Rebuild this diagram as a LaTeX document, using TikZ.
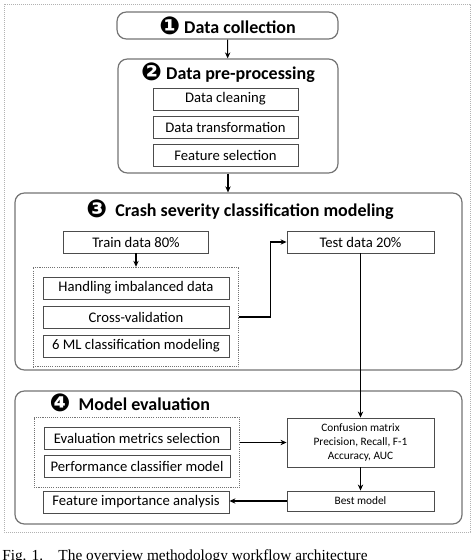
\documentclass[tikz,border=0pt]{standalone}
\usepackage{fontspec}
\setmainfont{Carlito}
\newfontfamily\dingfont{DejaVu Sans}
\newfontfamily\capfont{Liberation Serif}
\usetikzlibrary{arrows.meta,fit}
\newcommand\stepmark[1]{{\dingfont\fontsize{18.5}{18.5}\selectfont\raisebox{-0.6pt}{#1}}}

\begin{document}
\begin{tikzpicture}[x=0.75pt, y=-0.75pt, >={Stealth[length=4.5pt,width=4pt]},
    stage/.style={draw=black!55, line width=0.9pt, rounded corners=7pt},
    headtext/.style={font=\fontsize{13.5}{16}\selectfont\bfseries, inner sep=1pt},
    stepbox/.style={draw=black!70, line width=0.7pt, minimum width=108.75pt,
        minimum height=16.5pt, inner sep=1pt, font=\fontsize{11}{13}\selectfont},
    wide/.style={minimum width=139.5pt},
    resultbox/.style={draw=black!70, line width=0.7pt, minimum width=110.25pt,
        inner sep=1pt, font=\fontsize{8.5}{10.5}\selectfont},
    groupbox/.style={draw=black!55, line width=0.6pt, dash pattern=on 0.8pt off 0.8pt, inner sep=7pt},
    arr/.style={->, line width=0.8pt}]
    \useasboundingbox (0,0) rectangle (474,560);

    % Outer frame
    \draw[black!30, line width=0.5pt, dash pattern=on 0.6pt off 0.9pt] (4,4) rectangle (470,532);

    % Stage 1
    \node[stage, headtext, minimum width=165.75pt, minimum height=20.25pt] (collect) at (227.5,25.5) {\stepmark{❶}\ Data collection};

    % Stage 2
    \node[stage, minimum width=165pt, minimum height=85.5pt] (prep) at (228,116) {};
    \node[headtext] (preptitle) at (228,73) {\stepmark{❷}\ Data pre-processing};
    \node[stepbox] (clean) at (225.5,99) {Data cleaning};
    \node[stepbox] (transf) at (225.5,127) {Data transformation};
    \node[stepbox] (featsel) at (225.5,155) {Feature selection};

    % Stage 3
    \node[stage, minimum width=335.25pt, minimum height=132.75pt] (model) at (238.5,281.5) {};
    \node[headtext] (modeltitle) at (240,210) {\stepmark{❸}\ \ Crash severity classification modeling};
    \node[stepbox] (train) at (136,242) {Train data 80\%};
    \node[stepbox, minimum width=110.25pt] (test) at (360.5,242) {Test data 20\%};
    \node[stepbox, wide] (imbal) at (136,288) {Handling imbalanced data};
    \node[stepbox, wide] (cv) at (136,317.5) {Cross-validation};
    \node[stepbox, wide] (mlmod) at (136,346) {6 ML classification modeling};
    \node[groupbox, fit=(imbal)(mlmod)] (trainset) {};

    % Stage 4
    \node[stage, minimum width=335.25pt, minimum height=99.75pt] (evalst) at (238.5,457.5) {};
    \node[headtext, anchor=west] (evaltitle) at (48,403) {\stepmark{❹}\ \ Model evaluation};
    \node[stepbox, wide] (metrics) at (137,438.5) {Evaluation metrics selection};
    \node[stepbox, wide] (perf) at (137,466.5) {Performance classifier model};
    \node[groupbox, fit=(metrics)(perf)] (evalset) {};
    \node[resultbox, minimum height=36.75pt, align=center] (confmat) at (360.5,442.5) {Confusion matrix\\Precision, Recall, F-1\\Accuracy, AUC};
    \node[resultbox, minimum height=15pt] (best) at (360.5,501) {Best model};
    \node[stepbox, wide] (featimp) at (136,502) {Feature importance analysis};

    % Connectors
    \draw[arr] (collect) -- (prep);
    \draw[arr] (prep.south) -- (prep.south |- model.north);
    \draw[arr] (train) -- (trainset);
    \draw[arr] (trainset.east) -- ++(31,0) |- (test.west);
    \draw[arr] (test) -- (confmat);
    \draw[arr] (evalset.east |- confmat.west) -- (confmat.west);
    \draw[arr] (confmat) -- (best);
    \draw[arr] (best.west) -- (best.west -| featimp.east);

    % Caption
    \node[anchor=base west, inner sep=0pt, font=\capfont\fontsize{11.5}{13}\selectfont] (caption) at (2,560) {Fig. 1.\quad The overview methodology workflow architecture};
\end{tikzpicture}
\end{document}
